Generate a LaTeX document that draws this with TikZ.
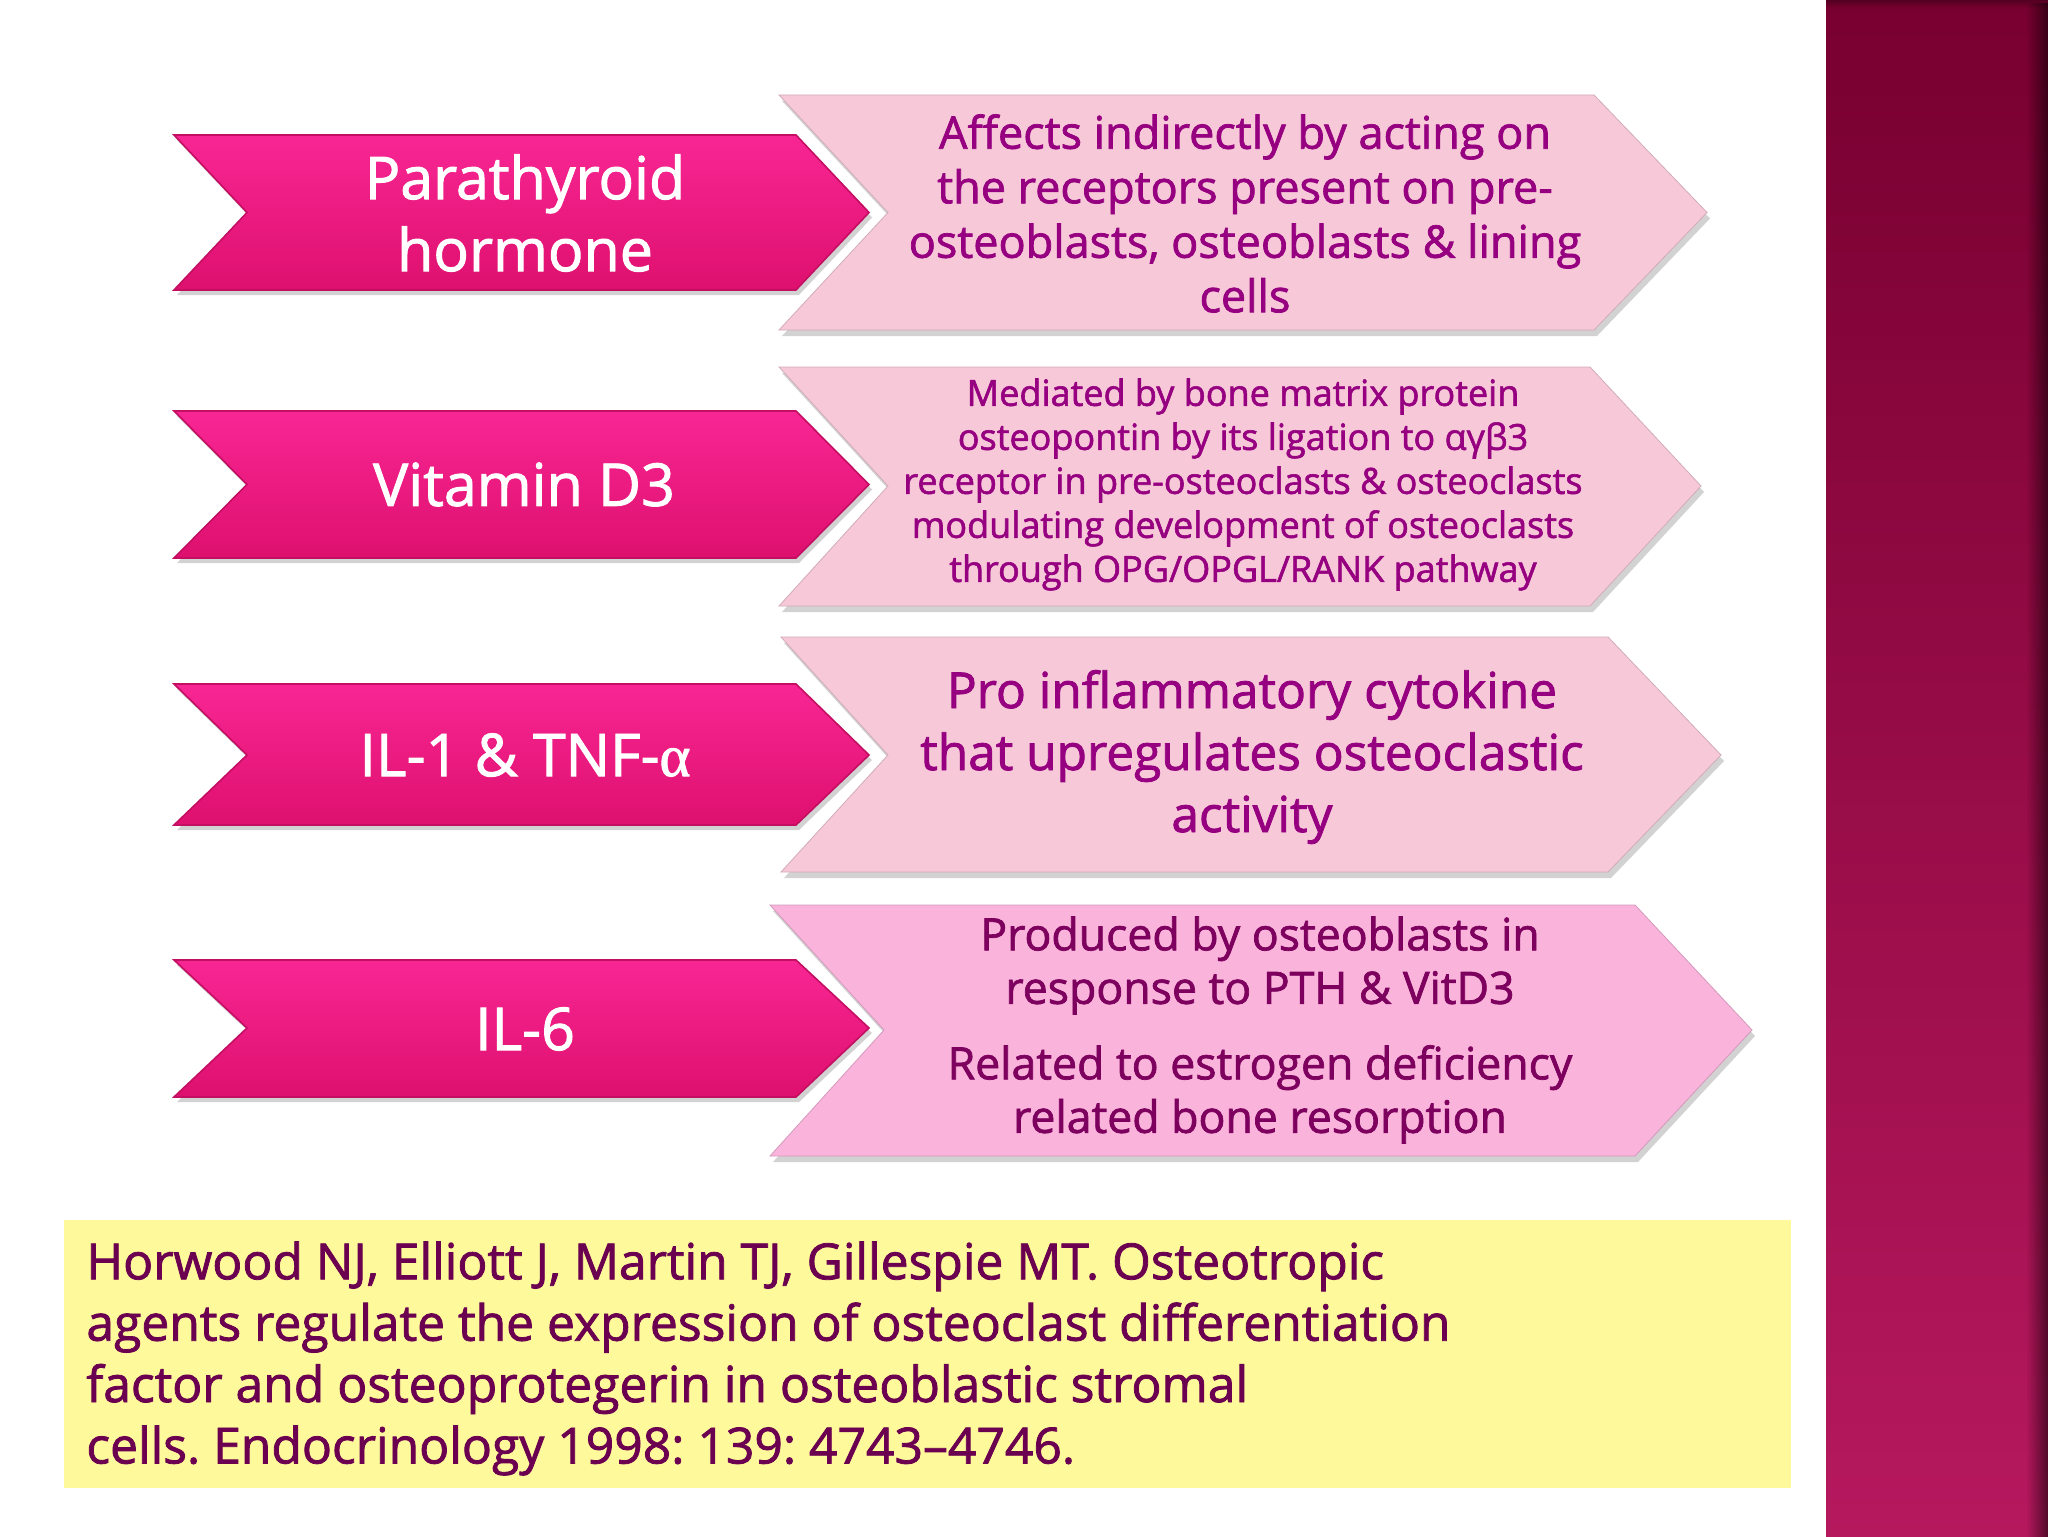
\documentclass[tikz,border=0pt]{standalone}
\usepackage{fontspec}
\setmainfont{Open Sans}[FakeBold=1.6]
\newfontfamily\serifgreek{Liberation Serif}[FakeBold=1.6]
\usetikzlibrary{shadows,fadings}
\frenchspacing
\definecolor{magtop}{RGB}{248,38,148}
\definecolor{magbot}{RGB}{222,16,110}
\definecolor{magedge}{RGB}{196,14,98}
\definecolor{pinkA}{RGB}{247,201,216}
\definecolor{pinkB}{RGB}{250,180,220}
\definecolor{txtA}{RGB}{150,0,128}
\definecolor{txtB}{RGB}{126,0,94}
\definecolor{yel}{RGB}{254,250,155}
\definecolor{txtY}{RGB}{108,0,80}
\definecolor{bartop}{RGB}{120,0,48}
\definecolor{barbot}{RGB}{182,24,94}
\tikzset{
  magchev/.style={top color=magtop,bottom color=magbot,draw=magedge,line width=0.8pt,
    drop shadow={opacity=0.35,shadow xshift=1.5pt,shadow yshift=-2.5pt}},
  pinkchev/.style={fill=pinkA,draw=pinkA!85!black,line width=0.4pt,
    drop shadow={opacity=0.35,shadow xshift=1.5pt,shadow yshift=-3pt}},
  pinkchevB/.style={fill=pinkB,draw=pinkB!85!black,line width=0.4pt,
    drop shadow={opacity=0.35,shadow xshift=1.5pt,shadow yshift=-3pt}},
  magtext/.style={text=white,align=center,font=\fontsize{29.5}{36}\selectfont},
  desc/.style={text=txtA,align=center,inner sep=0pt}
}
\begin{document}
\begin{tikzpicture}[x=0.5pt,y=-0.5pt]
\useasboundingbox (0,0) rectangle (2048,1536);
\fill[white] (0,0) rectangle (2048,1536);
% right bar
\shade[top color=bartop,bottom color=barbot] (1826,0) rectangle (2048,1536);
\fill[black,path fading=west,opacity=0.55] (2026,0) rectangle (2048,1536);
\fill[black,path fading=south,opacity=0.3] (1826,0) rectangle (2048,8);

% pink chevrons
\path[pinkchev] (779,95) -- (1594,95) -- (1707,212.5) -- (1594,330) -- (779,330) -- (888,212.5) -- cycle;
\path[pinkchev] (779,367) -- (1590,367) -- (1701,486) -- (1590,606) -- (779,606) -- (888,486) -- cycle;
\path[pinkchev] (781,637) -- (1608,637) -- (1721,755) -- (1608,872) -- (781,872) -- (888,755) -- cycle;
\path[pinkchevB] (770,905) -- (1635,905) -- (1752,1030) -- (1635,1156) -- (770,1156) -- (884,1030) -- cycle;

% magenta chevrons
\path[magchev] (174,135) -- (796,135) -- (869,212.5) -- (796,290) -- (174,290) -- (247,212.5) -- cycle;
\path[magchev] (174,411) -- (796,411) -- (869,484.5) -- (796,558) -- (174,558) -- (247,484.5) -- cycle;
\path[magchev] (174,684) -- (796,684) -- (869,755) -- (796,825) -- (174,825) -- (247,755) -- cycle;
\path[magchev] (174,960) -- (796,960) -- (869,1028) -- (796,1097) -- (174,1097) -- (247,1028) -- cycle;

% magenta labels
\node[magtext] (m1) at (525,213) {Parathyroid\\hormone};
\node[magtext] (m2) at (524,484.5) {Vitamin D3};
\node[magtext] (m3) at (525,755) {IL-1 \& TNF-{\serifgreek α}};
\node[magtext] (m4) at (525,1029) {IL-6};

% descriptions
\node[desc,font=\fontsize{22.5}{27.25}\selectfont] (d1) at (1245,213.5)
  {Affects indirectly by acting on\\the receptors present on pre-\\osteoblasts, osteoblasts \& lining\\cells};
\node[desc,font=\fontsize{18}{22}\selectfont] (d2) at (1243,484.5)
  {Mediated by bone matrix protein\\osteopontin by its ligation to αγβ3\\receptor in pre-osteoclasts \& osteoclasts\\modulating development of osteoclasts\\through OPG/OPGL/RANK pathway};
\node[desc,font=\fontsize{24.8}{31}\selectfont] (d3) at (1252,757)
  {Pro inflammatory cytokine\\that upregulates osteoclastic\\activity};
\node[desc,text=txtB,font=\fontsize{22.3}{26.75}\selectfont] (d4) at (1260,1030)
  {Produced by osteoblasts in\\response to PTH \& VitD3\\[11pt]Related to estrogen deficiency\\related bone resorption};

% reference box
\fill[yel] (64,1220) rectangle (1791,1488);
\node[anchor=north west,text=txtY,align=left,inner sep=0pt,font=\fontsize{24.9}{30.7}\selectfont] (ref) at (86,1241)
  {Horwood NJ, Elliott J, Martin TJ, Gillespie MT. Osteotropic\\agents regulate the expression of osteoclast differentiation\\factor and osteoprotegerin in osteoblastic stromal\\cells. Endocrinology 1998: 139: 4743–4746.};
\end{tikzpicture}
\end{document}
